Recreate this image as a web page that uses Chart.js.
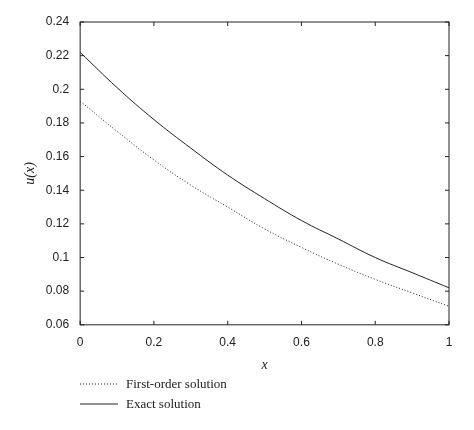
<!DOCTYPE html>
<html><head><script src="https://cdn.jsdelivr.net/npm/chart.js@4"></script>
<style>body{margin:0;background:#fff;width:474px;height:430px;overflow:hidden;font-family:"Liberation Serif",serif}
#lg{position:absolute;left:80px;top:374px;font-size:13px;color:#222}
.r{height:20px;display:flex;align-items:center}
.r svg{margin-right:8px}</style></head><body>
<div style="position:relative;width:474px;height:378px"><canvas id="c"></canvas></div>
<div id="lg"><div class="r"><svg width="38" height="4"><line x1="0" y1="2" x2="38" y2="2" stroke="#222" stroke-width="1" stroke-dasharray="1,2"/></svg>First-order solution</div>
<div class="r"><svg width="38" height="4"><line x1="0" y1="2" x2="38" y2="2" stroke="#222" stroke-width="1"/></svg>Exact solution</div></div>
<script>
const xs=[0,0.1,0.2,0.3,0.4,0.5,0.6,0.7,0.8,0.9,1];
const exact=[0.222,0.201,0.182,0.165,0.149,0.135,0.122,0.111,0.100,0.091,0.082];
const first=[0.193,0.175,0.158,0.143,0.130,0.117,0.106,0.096,0.087,0.079,0.071];
const box={id:'box',afterDraw(c){const {ctx,chartArea:a,scales:{x,y}}=c;ctx.save();ctx.strokeStyle='#222';ctx.lineWidth=1;ctx.strokeRect(a.left,a.top,a.right-a.left,a.bottom-a.top);ctx.beginPath();
x.ticks.forEach(t=>{const p=x.getPixelForValue(t.value);ctx.moveTo(p,a.bottom);ctx.lineTo(p,a.bottom-4);ctx.moveTo(p,a.top);ctx.lineTo(p,a.top+4);});
y.ticks.forEach(t=>{const p=y.getPixelForValue(t.value);ctx.moveTo(a.left,p);ctx.lineTo(a.left+4,p);ctx.moveTo(a.right,p);ctx.lineTo(a.right-4,p);});ctx.stroke();ctx.restore();}};
new Chart(document.getElementById('c'),{type:'line',
data:{datasets:[{data:xs.map((v,i)=>({x:v,y:exact[i]})),borderColor:'#222',borderWidth:1,pointRadius:0,tension:0.4},
{data:xs.map((v,i)=>({x:v,y:first[i]})),borderColor:'#222',borderWidth:1,borderDash:[1,2],pointRadius:0,tension:0.4}]},
options:{responsive:true,maintainAspectRatio:false,animation:false,layout:{padding:{top:22,right:25,left:18}},
plugins:{legend:{display:false},tooltip:{enabled:false}},
scales:{x:{type:'linear',min:0,max:1,grid:{display:false},border:{display:false},ticks:{stepSize:0.2,color:'#222',font:{family:'Liberation Sans',size:12},callback:v=>+v.toFixed(1)},title:{display:true,text:'x',color:'#222',font:{family:'Liberation Serif',style:'italic',size:14}}},
y:{min:0.06,max:0.24,grid:{display:false},border:{display:false},ticks:{stepSize:0.02,color:'#222',font:{family:'Liberation Sans',size:12},callback:v=>+v.toFixed(2)},title:{display:true,text:'u(x)',color:'#222',font:{family:'Liberation Serif',style:'italic',size:14}}}}},
plugins:[box]});
</script></body></html>
